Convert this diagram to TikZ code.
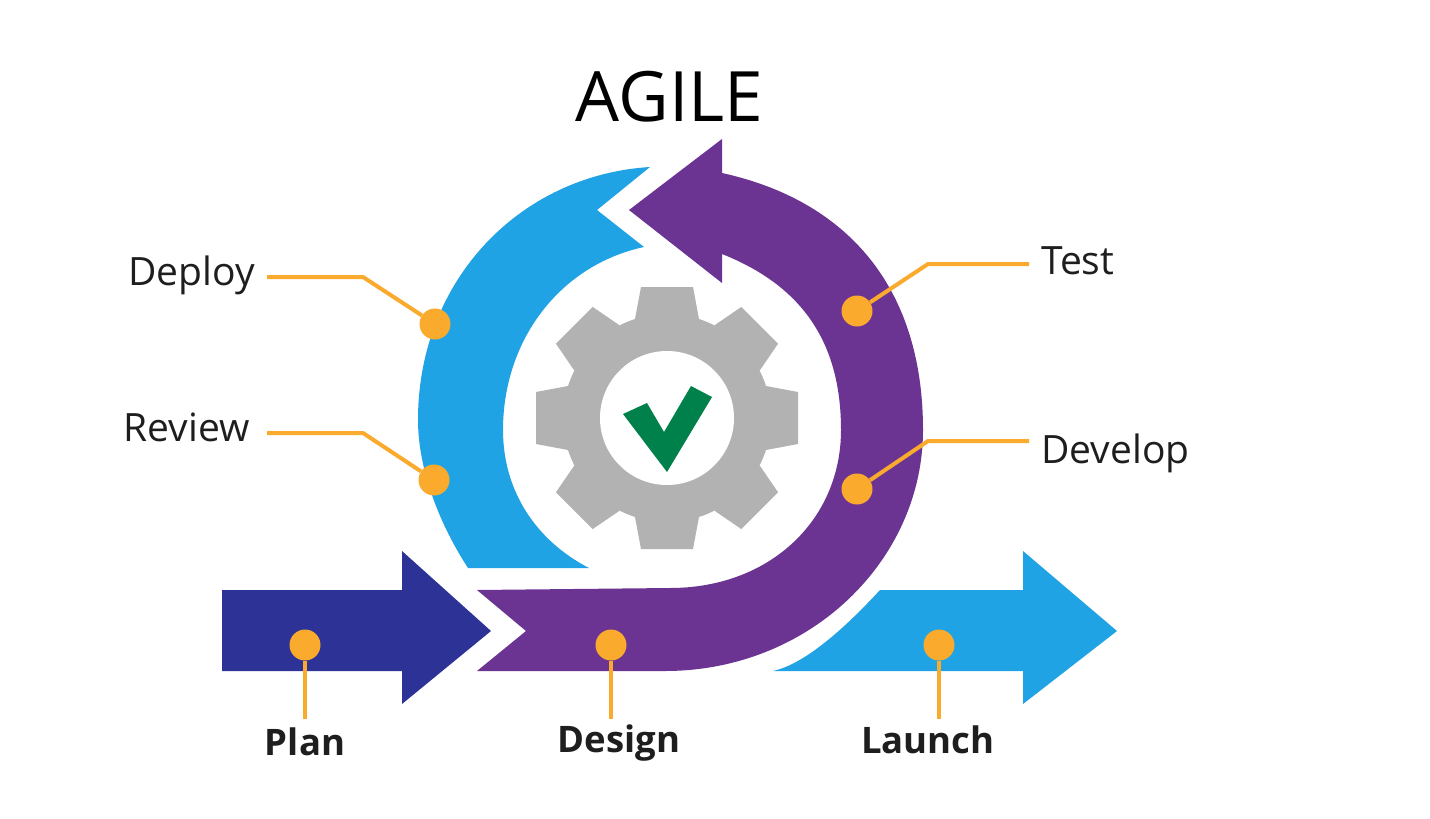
\documentclass[tikz,border=0pt]{standalone}
\usepackage{fontspec}
\setmainfont{Open Sans}
\usepackage{xcolor}
\usetikzlibrary{calc}
\definecolor{skyfill}{RGB}{32,163,228}
\definecolor{purplefill}{RGB}{107,52,146}
\definecolor{navyfill}{RGB}{44,50,150}
\definecolor{dotfill}{RGB}{250,170,45}
\definecolor{gearfill}{RGB}{178,178,178}
\definecolor{tickfill}{RGB}{0,128,75}
\definecolor{labeltext}{RGB}{30,30,30}
\tikzset{
    dot/.style={
        circle,
        fill=dotfill,
        inner sep=0pt,
        minimum size=31pt
    },
    leader/.style={
        draw=dotfill,
        line width=4pt
    },
    steplabel/.style={
        text=labeltext,
        inner ysep=0pt,
        inner xsep=12pt,
        font=\fontsize{39}{42}\selectfont
    },
    phaselabel/.style={
        text=labeltext,
        inner sep=7pt,
        font=\fontsize{36.5}{42}\selectfont\bfseries
    }
}
\begin{document}
\begin{tikzpicture}[x=1pt, y=-1pt]

\path[use as bounding box, fill=white] (0,0) rectangle (1430,819);

% Title
\node[text=black, font=\fontsize{69.5}{80}\selectfont] (title) at (669.5,97) {AGILE};

% Arrows
\fill[navyfill] (222,590) -- (402,590) -- (402,551) -- (491,631) -- (402,704) -- (402,671) -- (222,671) -- cycle;
\fill[skyfill] (773,671) .. controls (805,664) and (845,628) .. (880,590) -- (1023,590) -- (1023,551) -- (1117,631) -- (1023,704) -- (1023,671) -- cycle;
\fill[skyfill] (650,167) .. controls (520,175) and (418,280) .. (418,420) .. controls (418,470) and (440,525) .. (468,568) -- (589,568) .. controls (535,540) and (503,490) .. (503,430) .. controls (503,340) and (560,265) .. (644,247) -- (597,210) -- cycle;
\fill[purplefill] (477,590) -- (670,588) .. controls (770,588) and (841,520) .. (841,430) .. controls (841,340) and (800,285) .. (722,254) -- (722,283) -- (629,210) -- (722,139) -- (722,173) .. controls (845,200) and (923,285) .. (923,430) .. controls (923,560) and (810,671) .. (665,671) -- (477,671) -- (526,631) -- cycle;

% Gear
\begin{scope}[shift={(667,418)}]
    \fill[gearfill] (0,0) circle (104);
    \foreach \angle in {0,45,...,315} {
        \fill[gearfill, rotate=\angle] (-32,-99) -- (-26,-131) -- (26,-131) -- (32,-99) -- cycle;
    }
    \fill[white] (0,0) circle (67);
\end{scope}
\fill[tickfill] (623,414) -- (647,403) -- (664,432) -- (691,386) -- (712,397) -- (667,472) -- cycle;

% Dots
\node[dot] (deploy_dot) at (435,324) {};
\node[dot] (review_dot) at (434,480) {};
\node[dot] (test_dot) at (857,311) {};
\node[dot] (develop_dot) at (857,489) {};
\node[dot] (plan_dot) at (305,645) {};
\node[dot] (design_dot) at (611,645) {};
\node[dot] (launch_dot) at (939,645) {};

% Labels
\node[steplabel, anchor=east] (deploy) at (267,275) {Deploy};
\node[steplabel, anchor=east] (review) at (262,427) {Review};
\node[steplabel, anchor=west] (test) at (1029,261) {Test};
\node[steplabel, anchor=west] (develop) at (1029,453) {Develop};
\node[phaselabel] (plan) at (305,742) {Plan};
\node[phaselabel] (design) at (619,743) {Design};
\node[phaselabel] (launch) at (928,740) {Launch};

% Bends
\coordinate (deploy_bend) at (363,277);
\coordinate (review_bend) at (363,433);
\coordinate (test_bend) at (928,264);
\coordinate (develop_bend) at (928,441);

% Connections
\draw[leader] (deploy_dot) -- (deploy_bend) -- (deploy_bend -| deploy.east);
\draw[leader] (review_dot) -- (review_bend) -- (review_bend -| deploy.east);
\draw[leader] (test_dot) -- (test_bend) -- (test_bend -| test.west);
\draw[leader] (develop_dot) -- (develop_bend) -- (develop_bend -| develop.west);
\draw[leader] (plan_dot) -- (plan_dot |- launch.north);
\draw[leader] (design_dot) -- (design_dot |- launch.north);
\draw[leader] (launch_dot) -- (launch_dot |- launch.north);

\end{tikzpicture}
\end{document}
